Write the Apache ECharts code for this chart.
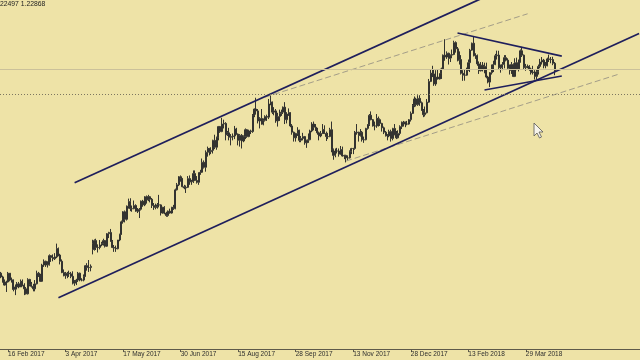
<!DOCTYPE html>
<html><head><meta charset="utf-8">
<script src="https://cdn.jsdelivr.net/npm/echarts@6/dist/echarts.min.js"></script>
<style>html,body{margin:0;padding:0;background:#EEE3A7}#c{width:640px;height:360px}</style>
</head><body><div id="c"></div>
<script>
// EURUSD daily bars, 10 Feb 2017 .. 20 Apr 2018 (one row per week)
const opens = [1.0670,
 1.0640,1.0600,1.0575,1.0600,1.0670,
 1.0615,1.0615,1.0540,1.0560,1.0585,
 1.0560,1.0605,1.0575,1.0545,1.0505,
 1.0620,1.0580,1.0565,1.0545,1.0585,
 1.0670,1.0655,1.0605,1.0735,1.0765,
 1.0735,1.0740,1.0810,1.0795,1.0785,
 1.0800,1.0865,1.0815,1.0765,1.0675,
 1.0650,1.0665,1.0670,1.0665,1.0645,
 1.0590,1.0600,1.0615,1.0670,1.0615,
 1.0615,1.0645,1.0730,1.0715,1.0715,
 1.0905,1.0860,1.0930,1.0875,1.0875,
 1.0895,1.0905,1.0930,1.0885,1.0985,
 1.0995,1.0925,1.0875,1.0870,1.0865,
 1.0935,1.0980,1.1080,1.1160,1.1100,
 1.1205,1.1240,1.1185,1.1185,1.1210,
 1.1165,1.1165,1.1180,1.1245,1.1215,
 1.1280,1.1255,1.1280,1.1260,1.1210,
 1.1195,1.1200,1.1215,1.1215,1.1150,
 1.1195,1.1150,1.1130,1.1165,1.1150,
 1.1195,1.1185,1.1335,1.1375,1.1440,
 1.1425,1.1360,1.1350,1.1355,1.1425,
 1.1400,1.1400,1.1465,1.1410,1.1395,
 1.1470,1.1475,1.1555,1.1515,1.1635,
 1.1665,1.1640,1.1650,1.1730,1.1675,
 1.1750,1.1840,1.1800,1.1860,1.1865,
 1.1775,1.1790,1.1755,1.1760,1.1765,
 1.1820,1.1780,1.1730,1.1770,1.1725,
 1.1760,1.1815,1.1760,1.1805,1.1800,
 1.1925,1.1980,1.1965,1.1885,1.1905,
 1.1860,1.1890,1.1920,1.1915,1.2020,
 1.2035,1.1955,1.1965,1.1885,1.1920,
 1.1945,1.1955,1.1995,1.1895,1.1940,
 1.1950,1.1845,1.1795,1.1750,1.1785,
 1.1810,1.1730,1.1745,1.1760,1.1710,
 1.1730,1.1735,1.1805,1.1860,1.1835,
 1.1820,1.1790,1.1765,1.1785,1.1815,
 1.1785,1.1760,1.1760,1.1815,1.1655,
 1.1610,1.1645,1.1645,1.1620,1.1655,
 1.1605,1.1610,1.1590,1.1590,1.1640,
 1.1665,1.1665,1.1795,1.1790,1.1770,
 1.1795,1.1735,1.1735,1.1825,1.1855,
 1.1930,1.1895,1.1845,1.1845,1.1905,
 1.1895,1.1865,1.1830,1.1795,1.1770,
 1.1765,1.1800,1.1745,1.1825,1.1780,
 1.1750,1.1785,1.1840,1.1875,1.1875,
 1.1860,1.1860,1.1895,1.1945,
 1.2005,1.2060,1.2015,1.2065,
 1.2030,1.1970,1.1935,1.1950,1.2035,
 1.2200,1.2265,1.2260,1.2180,1.2235,
 1.2220,1.2260,1.2300,1.2410,1.2395,
 1.2425,1.2385,1.2410,1.2415,1.2510,
 1.2460,1.2370,1.2375,1.2265,1.2250,
 1.2250,1.2290,1.2350,1.2450,1.2505,
 1.2405,1.2405,1.2340,1.2285,1.2330,
 1.2295,1.2320,1.2235,1.2195,1.2270,
 1.2315,1.2335,1.2405,1.2410,1.2310,
 1.2310,1.2335,1.2390,1.2370,1.2305,
 1.2290,1.2335,1.2240,1.2350,1.2300,
 1.2355,1.2445,1.2410,1.2310,1.2320,
 1.2320,1.2300,1.2270,1.2275,1.2240,
 1.2280,1.2320,1.2355,1.2370,1.2325,
 1.2330,1.2380,1.2375,1.2375,1.2345];

const highs = [1.0680,
 1.0650,1.0620,1.0610,1.0680,1.0670,
 1.0635,1.0620,1.0580,1.0600,1.0600,
 1.0620,1.0620,1.0590,1.0560,1.0630,
 1.0625,1.0600,1.0585,1.0615,1.0690,
 1.0680,1.0665,1.0745,1.0780,1.0770,
 1.0765,1.0820,1.0815,1.0820,1.0830,
 1.0906,1.0875,1.0825,1.0780,1.0700,
 1.0680,1.0680,1.0690,1.0680,1.0685,
 1.0615,1.0625,1.0680,1.0675,1.0630,
 1.0660,1.0735,1.0750,1.0775,1.0740,
 1.0937,1.0940,1.0945,1.0900,1.0935,
 1.0920,1.0945,1.0935,1.0990,1.1000,
 1.1023,1.0935,1.0895,1.0890,1.0935,
 1.0985,1.1090,1.1165,1.1170,1.1210,
 1.1265,1.1268,1.1210,1.1250,1.1220,
 1.1190,1.1190,1.1250,1.1255,1.1285,
 1.1290,1.1295,1.1285,1.1270,1.1230,
 1.1225,1.1230,1.1295,1.1220,1.1200,
 1.1205,1.1160,1.1170,1.1185,1.1200,
 1.1215,1.1345,1.1390,1.1445,1.1450,
 1.1430,1.1375,1.1370,1.1445,1.1450,
 1.1415,1.1490,1.1490,1.1445,1.1475,
 1.1495,1.1585,1.1570,1.1650,1.1680,
 1.1670,1.1675,1.1735,1.1775,1.1760,
 1.1845,1.1845,1.1910,1.1895,1.1875,
 1.1805,1.1830,1.1780,1.1785,1.1845,
 1.1830,1.1785,1.1780,1.1780,1.1770,
 1.1825,1.1820,1.1815,1.1815,1.1940,
 1.1985,1.2070,1.1980,1.1915,1.1980,
 1.1905,1.1930,1.1935,1.2060,1.2092,
 1.2040,1.1995,1.1980,1.1950,1.1975,
 1.1975,1.2000,1.2035,1.1955,1.1985,
 1.1955,1.1860,1.1800,1.1790,1.1835,
 1.1815,1.1765,1.1790,1.1765,1.1735,
 1.1785,1.1815,1.1875,1.1880,1.1860,
 1.1830,1.1800,1.1805,1.1860,1.1850,
 1.1800,1.1790,1.1830,1.1880,1.1665,
 1.1665,1.1670,1.1665,1.1685,1.1680,
 1.1615,1.1615,1.1610,1.1650,1.1670,
 1.1670,1.1805,1.1860,1.1800,1.1820,
 1.1805,1.1760,1.1830,1.1860,1.1940,
 1.1961,1.1900,1.1880,1.1940,1.1920,
 1.1905,1.1870,1.1840,1.1805,1.1780,
 1.1815,1.1815,1.1830,1.1860,1.1805,
 1.1810,1.1850,1.1880,1.1885,1.1880,
 1.1885,1.1900,1.1960,1.2020,
 1.2080,1.2070,1.2090,1.2090,
 1.2040,1.1980,1.2000,1.2060,1.2220,
 1.2295,1.2325,1.2295,1.2290,1.2295,
 1.2265,1.2310,1.2415,1.2537,1.2440,
 1.2430,1.2415,1.2455,1.2525,1.2520,
 1.2475,1.2440,1.2410,1.2290,1.2295,
 1.2310,1.2375,1.2460,1.2510,1.2555,
 1.2425,1.2415,1.2360,1.2355,1.2355,
 1.2350,1.2350,1.2245,1.2275,1.2335,
 1.2365,1.2420,1.2446,1.2445,1.2335,
 1.2355,1.2410,1.2410,1.2385,1.2335,
 1.2355,1.2345,1.2385,1.2390,1.2375,
 1.2455,1.2476,1.2415,1.2340,1.2335,
 1.2330,1.2310,1.2325,1.2290,1.2295,
 1.2335,1.2380,1.2395,1.2380,1.2355,
 1.2390,1.2414,1.2395,1.2397,1.2355];

const lows = [1.0630,
 1.0595,1.0570,1.0520,1.0595,1.0605,
 1.0595,1.0525,1.0495,1.0540,1.0550,
 1.0560,1.0565,1.0495,1.0500,1.0500,
 1.0565,1.0555,1.0525,1.0525,1.0580,
 1.0640,1.0600,1.0600,1.0720,1.0720,
 1.0715,1.0730,1.0760,1.0765,1.0775,
 1.0790,1.0805,1.0740,1.0670,1.0645,
 1.0625,1.0630,1.0640,1.0630,1.0580,
 1.0569,1.0575,1.0600,1.0605,1.0605,
 1.0605,1.0640,1.0690,1.0680,1.0685,
 1.0820,1.0850,1.0855,1.0835,1.0860,
 1.0885,1.0890,1.0875,1.0880,1.0950,
 1.0920,1.0870,1.0840,1.0840,1.0860,
 1.0925,1.0975,1.1065,1.1075,1.1090,
 1.1185,1.1165,1.1160,1.1180,1.1160,
 1.1150,1.1110,1.1170,1.1200,1.1205,
 1.1225,1.1245,1.1235,1.1190,1.1175,
 1.1180,1.1185,1.1195,1.1130,1.1145,
 1.1140,1.1120,1.1120,1.1145,1.1145,
 1.1175,1.1180,1.1330,1.1365,1.1400,
 1.1355,1.1340,1.1310,1.1350,1.1375,
 1.1375,1.1390,1.1405,1.1385,1.1375,
 1.1455,1.1470,1.1505,1.1480,1.1600,
 1.1610,1.1620,1.1625,1.1660,1.1655,
 1.1730,1.1790,1.1795,1.1825,1.1730,
 1.1765,1.1730,1.1690,1.1730,1.1740,
 1.1775,1.1690,1.1680,1.1665,1.1715,
 1.1740,1.1750,1.1755,1.1780,1.1790,
 1.1915,1.1935,1.1865,1.1825,1.1855,
 1.1850,1.1880,1.1885,1.1900,1.2010,
 1.1940,1.1930,1.1870,1.1840,1.1885,
 1.1925,1.1940,1.1860,1.1865,1.1925,
 1.1835,1.1775,1.1720,1.1720,1.1765,
 1.1715,1.1715,1.1730,1.1695,1.1670,
 1.1710,1.1730,1.1795,1.1810,1.1805,
 1.1775,1.1730,1.1755,1.1780,1.1780,
 1.1725,1.1740,1.1755,1.1635,1.1575,
 1.1595,1.1625,1.1600,1.1615,1.1600,
 1.1580,1.1554,1.1565,1.1585,1.1620,
 1.1620,1.1655,1.1775,1.1720,1.1760,
 1.1720,1.1710,1.1730,1.1815,1.1845,
 1.1890,1.1840,1.1810,1.1830,1.1840,
 1.1845,1.1800,1.1780,1.1760,1.1730,
 1.1755,1.1720,1.1730,1.1770,1.1740,
 1.1745,1.1770,1.1820,1.1840,1.1835,
 1.1850,1.1855,1.1880,1.1940,
 1.1995,1.2000,1.2005,1.2005,
 1.1965,1.1915,1.1920,1.1945,1.2030,
 1.2195,1.2235,1.2165,1.2165,1.2215,
 1.2215,1.2220,1.2295,1.2365,1.2380,
 1.2335,1.2355,1.2385,1.2410,1.2430,
 1.2360,1.2335,1.2255,1.2205,1.2206,
 1.2245,1.2285,1.2275,1.2445,1.2400,
 1.2380,1.2325,1.2260,1.2280,1.2280,
 1.2265,1.2225,1.2185,1.2155,1.2255,
 1.2275,1.2330,1.2375,1.2300,1.2270,
 1.2290,1.2305,1.2360,1.2300,1.2255,
 1.2260,1.2235,1.2235,1.2290,1.2280,
 1.2350,1.2395,1.2300,1.2285,1.2305,
 1.2285,1.2255,1.2255,1.2215,1.2215,
 1.2255,1.2305,1.2335,1.2305,1.2305,
 1.2320,1.2355,1.2345,1.2330,1.2250];

const closes = [1.0640,
 1.0600,1.0575,1.0600,1.0670,1.0615,
 1.0615,1.0540,1.0560,1.0585,1.0560,
 1.0605,1.0575,1.0545,1.0505,1.0620,
 1.0580,1.0565,1.0545,1.0585,1.0670,
 1.0655,1.0605,1.0735,1.0765,1.0735,
 1.0740,1.0810,1.0795,1.0785,1.0800,
 1.0865,1.0815,1.0765,1.0675,1.0650,
 1.0665,1.0670,1.0665,1.0645,1.0590,
 1.0600,1.0615,1.0670,1.0615,1.0615,
 1.0645,1.0730,1.0715,1.0715,1.0725,
 1.0860,1.0930,1.0875,1.0875,1.0895,
 1.0905,1.0930,1.0885,1.0985,1.0995,
 1.0925,1.0875,1.0870,1.0865,1.0935,
 1.0980,1.1080,1.1160,1.1100,1.1205,
 1.1240,1.1185,1.1185,1.1210,1.1165,
 1.1165,1.1180,1.1245,1.1215,1.1280,
 1.1255,1.1280,1.1260,1.1210,1.1195,
 1.1200,1.1215,1.1215,1.1150,1.1195,
 1.1150,1.1130,1.1165,1.1150,1.1195,
 1.1185,1.1335,1.1375,1.1440,1.1425,
 1.1360,1.1350,1.1355,1.1425,1.1400,
 1.1400,1.1465,1.1410,1.1395,1.1470,
 1.1475,1.1555,1.1515,1.1635,1.1665,
 1.1640,1.1650,1.1730,1.1675,1.1750,
 1.1840,1.1800,1.1860,1.1865,1.1775,
 1.1790,1.1755,1.1760,1.1765,1.1820,
 1.1780,1.1730,1.1770,1.1725,1.1760,
 1.1815,1.1760,1.1805,1.1800,1.1925,
 1.1980,1.1965,1.1885,1.1905,1.1860,
 1.1890,1.1920,1.1915,1.2020,1.2035,
 1.1955,1.1965,1.1885,1.1920,1.1945,
 1.1955,1.1995,1.1895,1.1940,1.1950,
 1.1845,1.1795,1.1750,1.1785,1.1810,
 1.1730,1.1745,1.1760,1.1710,1.1730,
 1.1735,1.1805,1.1860,1.1835,1.1820,
 1.1790,1.1765,1.1785,1.1815,1.1785,
 1.1760,1.1760,1.1815,1.1655,1.1610,
 1.1645,1.1645,1.1620,1.1655,1.1605,
 1.1610,1.1590,1.1590,1.1640,1.1665,
 1.1665,1.1795,1.1790,1.1770,1.1795,
 1.1735,1.1735,1.1825,1.1855,1.1930,
 1.1895,1.1845,1.1845,1.1905,1.1895,
 1.1865,1.1830,1.1795,1.1770,1.1765,
 1.1800,1.1745,1.1825,1.1780,1.1750,
 1.1785,1.1840,1.1875,1.1875,1.1860,
 1.1860,1.1895,1.1945,1.2005,
 1.2060,1.2015,1.2065,1.2030,
 1.1970,1.1935,1.1950,1.2035,1.2200,
 1.2265,1.2260,1.2180,1.2235,1.2220,
 1.2260,1.2300,1.2410,1.2395,1.2425,
 1.2385,1.2410,1.2415,1.2510,1.2460,
 1.2370,1.2375,1.2265,1.2250,1.2250,
 1.2290,1.2350,1.2450,1.2505,1.2405,
 1.2405,1.2340,1.2285,1.2330,1.2295,
 1.2320,1.2235,1.2195,1.2270,1.2315,
 1.2335,1.2405,1.2410,1.2310,1.2310,
 1.2335,1.2390,1.2370,1.2305,1.2290,
 1.2335,1.2240,1.2350,1.2300,1.2355,
 1.2445,1.2410,1.2310,1.2320,1.2320,
 1.2300,1.2270,1.2275,1.2240,1.2280,
 1.2320,1.2355,1.2370,1.2325,1.2330,
 1.2380,1.2375,1.2375,1.2345,1.22868];

// Calendar of the time axis (trading days; chart shifted with empty future bars)
const firstBarDay = { y: 2017, m: 1, d: 10 };
const categoryCount = 356;
const closedDays = ['12-25', '01-01'];
const monthNames = ['Jan','Feb','Mar','Apr','May','Jun','Jul','Aug','Sep','Oct','Nov','Dec'];
const labelStep = 32, firstLabelIndex = 4;

// Horizontal levels
const bidPrice = 1.22868;
const levelDark = 1.2092;
const levelLight = 1.2140;
const headerText = '22497 1.22868';

// Trend line anchors [date, price]
const channelUpper = [['10 Apr 2017', 1.1392], ['10 Apr 2018', 1.3074]];
const channelLower = [['28 Mar 2017', 1.0474], ['26 Jun 2018', 1.2583]];
const dashUpper = [['5 Sep 2017', 1.2075], ['30 Mar 2018', 1.2740]];
const dashLower = [['7 Nov 2017', 1.1565], ['8 Jun 2018', 1.2255]];
const triangleUpper = [['5 Feb 2018', 1.2587], ['26 Apr 2018', 1.2402]];
const triangleLower = [['26 Feb 2018', 1.2132], ['26 Apr 2018', 1.2244]];

if (new Set([opens.length, highs.length, lows.length, closes.length]).size !== 1)
  console.error('length mismatch', opens.length, highs.length, lows.length, closes.length);

const dates = [];
{
  const d = new Date(Date.UTC(firstBarDay.y, firstBarDay.m, firstBarDay.d));
  while (dates.length < categoryCount) {
    const wd = d.getUTCDay();
    const md = String(d.getUTCMonth() + 1).padStart(2, '0') + '-' + String(d.getUTCDate()).padStart(2, '0');
    if (wd !== 0 && wd !== 6 && !closedDays.includes(md))
      dates.push(d.getUTCDate() + ' ' + monthNames[d.getUTCMonth()] + ' ' + d.getUTCFullYear());
    d.setUTCDate(d.getUTCDate() + 1);
  }
}
const lastBar = closes.length - 1;
const showLabel = (i) => i >= firstLabelIndex && i <= lastBar && (i - firstLabelIndex) % labelStep === 0;

const navy = '#1f1f5c';
const dashGrey = '#a39d88';
function trend(points, color, width, type) {
  return { type: 'line', data: points, symbol: 'none', silent: true, clip: true, z: 4,
    lineStyle: { color: color, width: width, type: type } };
}

const chart = echarts.init(document.getElementById('c'), null, { renderer: 'canvas' });
chart.setOption({
  backgroundColor: '#EEE3A7',
  animation: false,
  grid: { left: -1, right: 0, top: 0, bottom: 11, containLabel: false },
  xAxis: {
    type: 'category', data: dates, boundaryGap: true,
    axisLine: { lineStyle: { color: '#5e5a4a', width: 1 } },
    axisTick: { show: true, alignWithLabel: true, interval: showLabel, length: 3, lineStyle: { color: '#5e5a4a' } },
    axisLabel: { interval: showLabel, align: 'left', margin: 2, fontSize: 6.5,
      fontFamily: 'Liberation Sans', color: '#2e2e2e' },
    splitLine: { show: false }
  },
  yAxis: { type: 'value', min: 1.0065, max: 1.2850, show: false, splitLine: { show: false } },
  series: [
    {
      type: 'candlestick', silent: true, barWidth: 1.5,
      data: opens.map((o, i) => [o, closes[i], lows[i], highs[i]]),
      itemStyle: { color: '#bdb691', color0: '#333330', borderColor: '#333330', borderColor0: '#333330', borderWidth: 1 },
      markLine: {
        silent: true, symbol: ['none', 'none'], label: { show: false }, animation: false,
        data: [
          { yAxis: bidPrice, lineStyle: { color: '#cbc19a', width: 1, type: 'solid' } },
          { yAxis: levelLight, lineStyle: { color: '#c2b88e', width: 1, type: [1, 2] } },
          { yAxis: levelDark, lineStyle: { color: '#7d7760', width: 1, type: [1, 2] } }
        ]
      }
    },
    trend(dashUpper, dashGrey, 1, [6, 3]),
    trend(dashLower, dashGrey, 1, [6, 3]),
    trend(channelUpper, navy, 1.8, 'solid'),
    trend(channelLower, navy, 1.8, 'solid'),
    trend(triangleUpper, navy, 1.6, 'solid'),
    trend(triangleLower, navy, 1.6, 'solid')
  ],
  graphic: [
    { type: 'text', left: 0, top: 1, z: 10,
      style: { text: headerText, font: '6.8px "Liberation Sans"', fill: '#222' } },
    { type: 'polygon', z: 10,
      shape: { points: [[534,123],[534,136],[537,133],[539.5,138],[541.5,137],[539,132],[543,132]] },
      style: { fill: '#f7f4ea', stroke: '#555', lineWidth: 0.8 } }
  ]
});
</script>
</body></html>
